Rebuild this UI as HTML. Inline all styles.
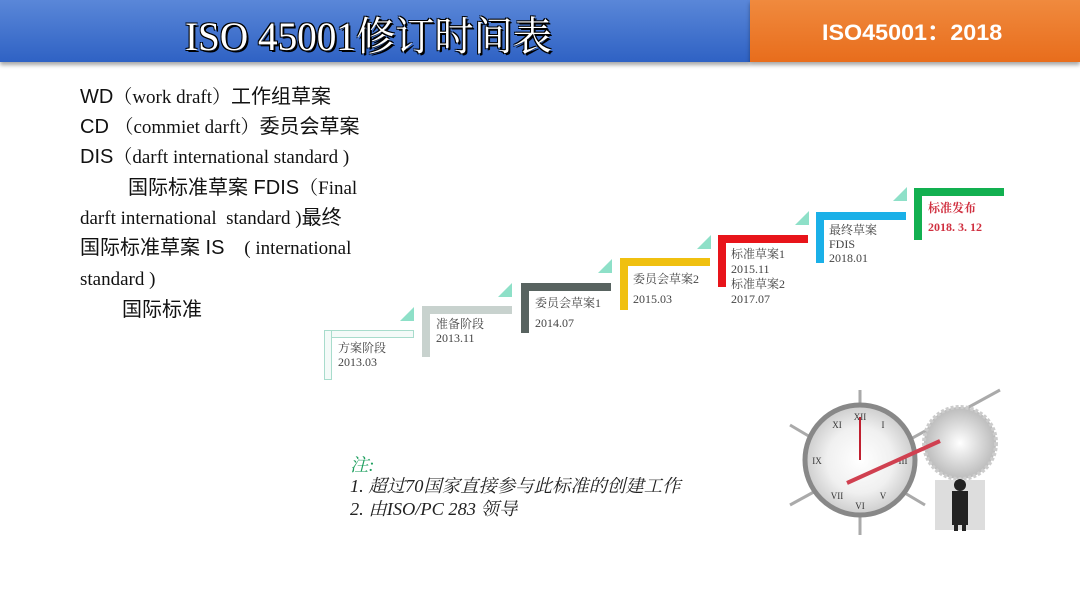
<!DOCTYPE html>
<html><head><meta charset="utf-8"><style>
body{margin:0;width:1080px;height:608px;position:relative;background:#fff;overflow:hidden;font-family:"Liberation Sans","Noto Sans CJK SC",sans-serif}
.hb{position:absolute;left:0;top:0;width:750px;height:62px;background:linear-gradient(#5a87d8,#2f62c4);box-shadow:0 3px 4px rgba(0,0,0,.35)}
.ho{position:absolute;left:750px;top:0;width:330px;height:62px;background:linear-gradient(#f08a3e,#e86d1c);box-shadow:0 3px 4px rgba(0,0,0,.35)}
.t1{position:absolute;left:185px;top:5px;font-family:"Liberation Serif","Noto Serif CJK SC",serif;font-size:40px;color:#fff;text-shadow:2px 2px 0 #000,-1px -1px 0 #000,1px -1px 0 #000,-1px 1px 0 #000;white-space:nowrap;transform:scaleX(0.98);transform-origin:left}
.t2{position:absolute;left:822px;top:15px;font-size:22px;font-weight:bold;color:#fff;white-space:nowrap;transform:scaleX(1.06);transform-origin:left}
.l{position:absolute;font-size:20px;color:#111;white-space:nowrap;line-height:22px}
.s{font-family:"Liberation Serif","Noto Serif CJK SC",serif;font-size:19px}
.h{position:absolute;height:8px}.v{position:absolute;width:8px}
.tri{position:absolute;width:0;height:0;border-left:14px solid transparent;border-bottom:14px solid #8ee0c8}
.tx{position:absolute;font-family:"Liberation Serif","Noto Serif CJK SC",serif;font-size:12px;color:#444;white-space:nowrap;line-height:14px}
.n{position:absolute;font-family:"Liberation Serif","Noto Serif CJK SC",serif;font-style:italic;font-size:18px;color:#222;white-space:nowrap;transform:scaleX(1.02);transform-origin:left}
</style></head><body>
<div class="hb"></div><div class="ho"></div>
<div class="t1">ISO 45001修订时间表</div>
<div class="t2">ISO45001：2018</div>

<div class="l" style="left:80px;top:86px">WD<span class="s">（work draft）</span>工作组草案</div>
<div class="l" style="left:80px;top:116px">CD <span class="s">（commiet darft）</span>委员会草案</div>
<div class="l" style="left:80px;top:146px">DIS<span class="s">（darft international standard )</span></div>
<div class="l" style="left:128px;top:177px">国际标准草案 FDIS<span class="s">（Final</span></div>
<div class="l" style="left:80px;top:207px"><span class="s">darft international&nbsp; standard )</span>最终</div>
<div class="l" style="left:80px;top:237px">国际标准草案 IS <span class="s">&nbsp;&nbsp;&nbsp;( international</span></div>
<div class="l" style="left:80px;top:268px"><span class="s">standard )</span></div>
<div class="l" style="left:122px;top:299px">国际标准</div>

<div class="h" style="left:324px;top:330px;width:90px;background:#f4faf8;border:1px solid #a8dccc;box-sizing:border-box"></div>
<div class="v" style="left:324px;top:330px;height:50px;background:#f4faf8;border:1px solid #a8dccc;box-sizing:border-box"></div>
<div class="tri" style="left:400px;top:307px"></div>
<div class="tx" style="left:338px;top:341px">方案阶段<br>2013.03</div>

<div class="h" style="left:422px;top:306px;width:90px;background:#c8d2ce"></div>
<div class="v" style="left:422px;top:306px;height:51px;background:#c8d2ce"></div>
<div class="tri" style="left:498px;top:283px"></div>
<div class="tx" style="left:436px;top:317px">准备阶段<br>2013.11</div>

<div class="h" style="left:521px;top:283px;width:90px;background:#586360"></div>
<div class="v" style="left:521px;top:283px;height:50px;background:#586360"></div>
<div class="tri" style="left:598px;top:259px"></div>
<div class="tx" style="left:535px;top:293px;line-height:20px">委员会草案1<br>2014.07</div>

<div class="h" style="left:620px;top:258px;width:90px;background:#f0c010"></div>
<div class="v" style="left:620px;top:258px;height:52px;background:#f0c010"></div>
<div class="tri" style="left:697px;top:235px"></div>
<div class="tx" style="left:633px;top:269px;line-height:20px">委员会草案2<br>2015.03</div>

<div class="h" style="left:718px;top:235px;width:90px;background:#e8141a"></div>
<div class="v" style="left:718px;top:235px;height:52px;background:#e8141a"></div>
<div class="tri" style="left:795px;top:211px"></div>
<div class="tx" style="left:731px;top:247px;line-height:15px">标准草案1<br>2015.11<br>标准草案2<br>2017.07</div>

<div class="h" style="left:816px;top:212px;width:90px;background:#1ab0e8"></div>
<div class="v" style="left:816px;top:212px;height:51px;background:#1ab0e8"></div>
<div class="tri" style="left:893px;top:187px"></div>
<div class="tx" style="left:829px;top:223px">最终草案<br>FDIS<br>2018.01</div>

<div class="h" style="left:914px;top:188px;width:90px;background:#12b050"></div>
<div class="v" style="left:914px;top:188px;height:52px;background:#12b050"></div>
<div class="tx" style="left:928px;top:199px;color:#d03040;line-height:19px;font-weight:bold">标准发布<br>2018. 3. 12</div>

<div class="n" style="left:350px;top:451px;color:#20a060">注:</div>
<div class="n" style="left:350px;top:472px">1. 超过70国家直接参与此标准的创建工作</div>
<div class="n" style="left:350px;top:495px">2. 由ISO/PC 283 领导</div>

<svg style="position:absolute;left:785px;top:385px" width="222" height="152" viewBox="0 0 222 152">
<defs><radialGradient id="g"><stop offset="0" stop-color="#fff"/><stop offset="1" stop-color="#bbb"/></radialGradient>
<radialGradient id="f"><stop offset="0" stop-color="#fff"/><stop offset=".6" stop-color="#f0f0f0"/><stop offset="1" stop-color="#ccc"/></radialGradient></defs>
<g stroke="#aaa" stroke-width="3"><line x1="75" y1="5" x2="75" y2="150"/><line x1="5" y1="40" x2="140" y2="120"/><line x1="5" y1="120" x2="215" y2="5"/></g>
<circle cx="175" cy="58" r="36" fill="url(#g)" stroke="#ccc" stroke-dasharray="3 2" stroke-width="4"/>
<circle cx="75" cy="75" r="55" fill="url(#f)" stroke="#888" stroke-width="5"/>
<g font-family="Liberation Serif" font-size="9" fill="#333" text-anchor="middle"><text x="75" y="35">XII</text><text x="75" y="124">VI</text><text x="32" y="79">IX</text><text x="118" y="79">III</text><text x="52" y="43">XI</text><text x="98" y="43">I</text><text x="52" y="114">VII</text><text x="98" y="114">V</text></g>
<line x1="75" y1="75" x2="75" y2="32" stroke="#c02030" stroke-width="2"/>
<line x1="62" y1="98" x2="155" y2="56" stroke="#d04050" stroke-width="4"/>
<rect x="150" y="95" width="50" height="50" fill="#ddd"/>
<circle cx="175" cy="100" r="6" fill="#222"/><rect x="167" y="106" width="16" height="34" fill="#222"/><rect x="169" y="138" width="4" height="8" fill="#222"/><rect x="177" y="138" width="4" height="8" fill="#222"/>
</svg>
</body></html>
